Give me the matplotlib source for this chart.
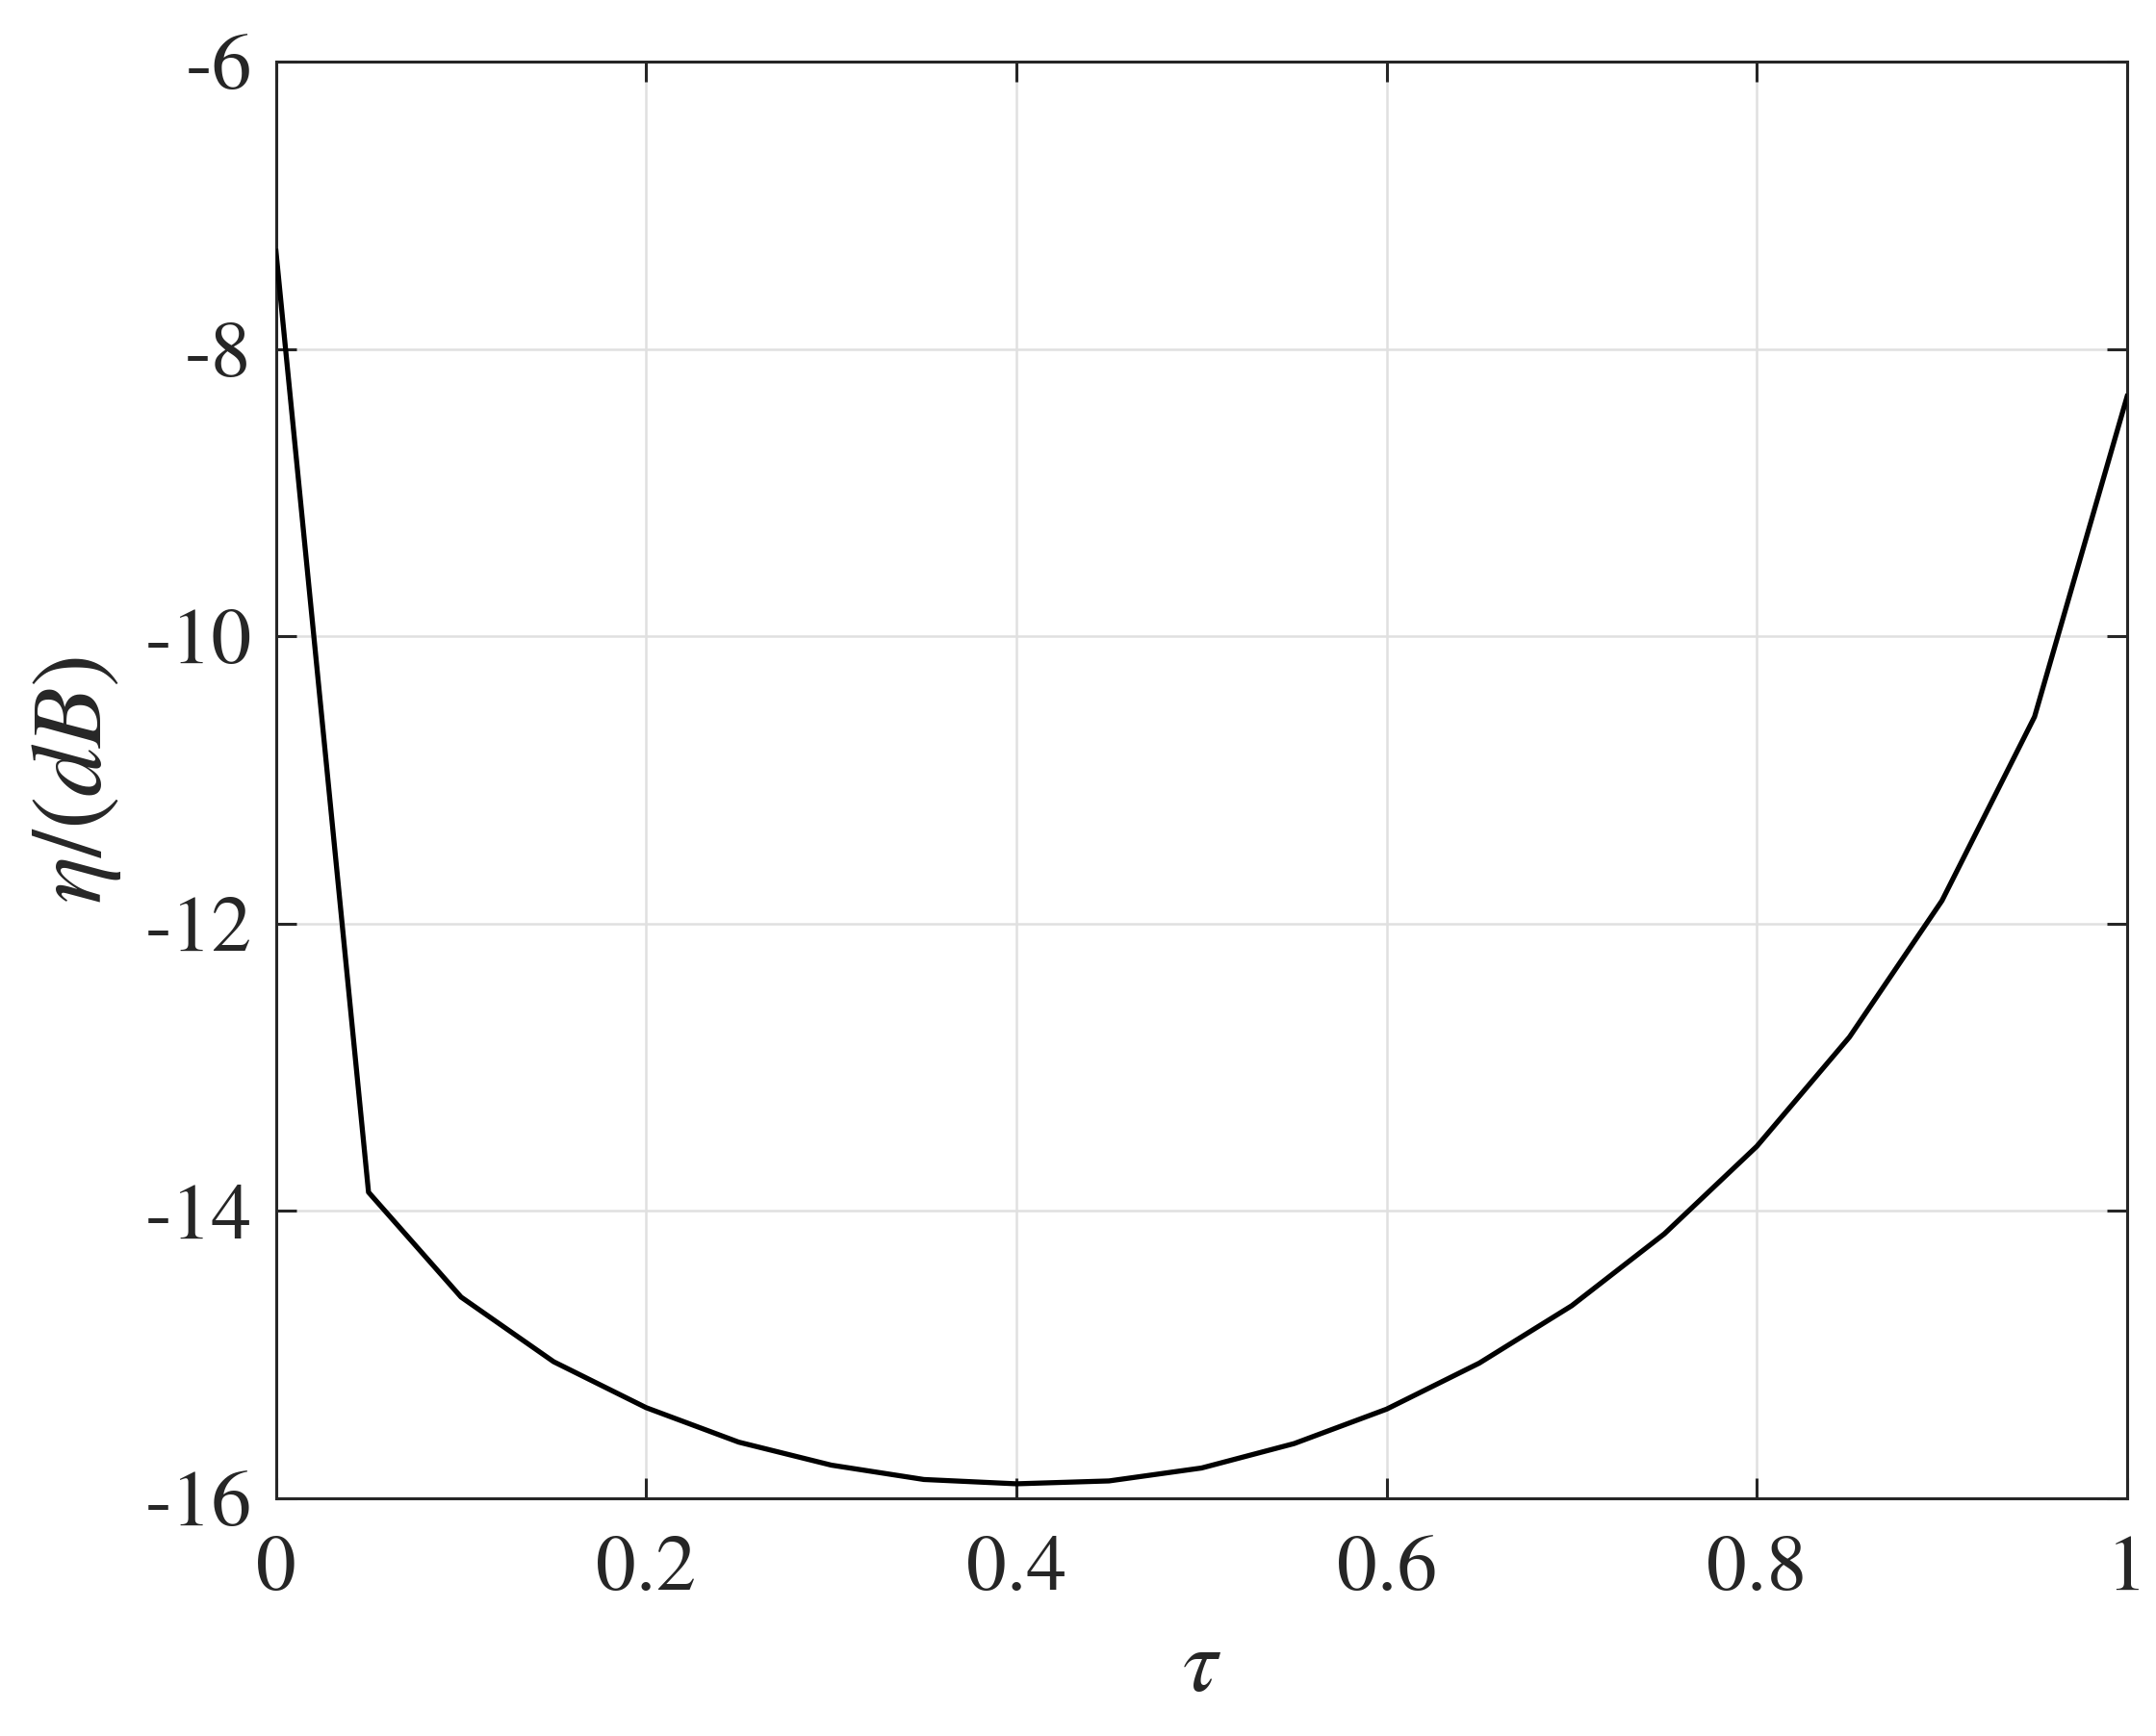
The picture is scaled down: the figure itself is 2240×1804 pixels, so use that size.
import numpy as np
from matplotlib import pyplot as plt

tau = [0.0, 0.05, 0.1, 0.15, 0.2, 0.25, 0.3, 0.35, 0.4, 0.45, 0.5,
       0.55, 0.6, 0.65, 0.7, 0.75, 0.8, 0.85, 0.9, 0.95, 1.0]
eta_db = [-7.32, -13.87, -14.60, -15.05, -15.37, -15.61, -15.77, -15.87, -15.90, -15.88, -15.79,
          -15.62, -15.38, -15.06, -14.66, -14.16, -13.55, -12.79, -11.84, -10.56, -8.33]

xticks = [0, 0.2, 0.4, 0.6, 0.8, 1]
xtick_labels = ['0', '0.2', '0.4', '0.6', '0.8', '1']
yticks = [-16, -14, -12, -10, -8, -6]
ytick_labels = ['-16', '-14', '-12', '-10', '-8', '-6']

plt.rcParams['font.family'] = ['STIXGeneral', 'Liberation Serif', 'DejaVu Serif']
plt.rcParams['mathtext.fontset'] = 'stix'

axis_col = '#262626'

fig = plt.figure(figsize=(22.4, 18.04), dpi=100)
ax = fig.add_axes([0.128, 0.137, 0.9866 - 0.128, 0.9644 - 0.137])

ax.plot(tau, eta_db, color='black', lw=3.8, zorder=3)

ax.set_xlim(0, 1)
ax.set_ylim(-16, -6)
ax.set_xticks(xticks)
ax.set_xticklabels(xtick_labels)
ax.set_yticks(yticks)
ax.set_yticklabels(ytick_labels)

ax.grid(True, color='#e0e0e0', lw=1.8, zorder=0)
ax.set_axisbelow(True)

for s in ax.spines.values():
    s.set_color(axis_col)
    s.set_linewidth(2.2)

ax.tick_params(axis='both', which='both', direction='in', length=15, width=2.2,
               color=axis_col, labelcolor=axis_col, top=True, right=True,
               labelsize=60)
ax.tick_params(axis='x', pad=28)
ax.tick_params(axis='y', pad=18)

ax.set_xlabel(r'$\tau$', fontsize=66, color=axis_col, labelpad=18)
ax.set_ylabel(r'$\eta/(dB)$', fontsize=74, color=axis_col, labelpad=16)

fig.savefig('out.png', dpi=100, facecolor='white')
